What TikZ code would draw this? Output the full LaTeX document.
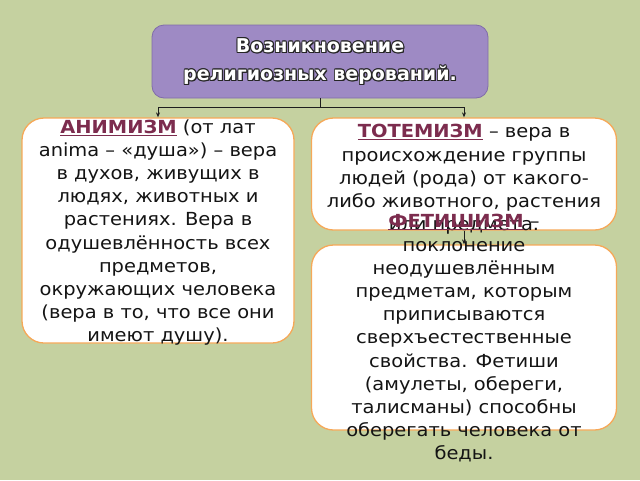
\documentclass[tikz,border=0pt]{standalone}
\usepackage{fontspec}
\setmainfont{DejaVu Sans}
\newfontfamily\bodyfont[FakeStretch=1.08]{DejaVu Sans}
\usetikzlibrary{arrows.meta}
\definecolor{bgc}{RGB}{197,209,160}
\definecolor{purp}{RGB}{158,138,196}
\definecolor{purpd}{RGB}{128,108,170}
\definecolor{orng}{RGB}{246,168,88}
\definecolor{maroon}{RGB}{124,44,78}
\definecolor{txt}{RGB}{20,20,20}
\definecolor{conn}{RGB}{30,30,30}
\newcommand{\hd}[1]{\textcolor{maroon}{\underline{\textbf{#1}}}}
\tikzset{
  titlebox/.style={draw=purpd, line width=0.8pt, fill=purp, rounded corners=12pt, minimum width=336pt, minimum height=73pt, inner sep=0pt},
  infobox/.style={draw=orng, line width=1.3pt, fill=white, rounded corners=22pt, inner sep=0pt},
  bodytext/.style={align=center, text=txt, inner sep=0pt, font=\bodyfont\fontsize{18}{23.2}\selectfont},
  titletext/.style={align=center, inner sep=0pt, font=\fontsize{19}{28}\selectfont\bfseries},
  link/.style={draw=conn, line width=0.8pt},
  arr/.style={link, -{Stealth[length=5pt,width=4pt]}}
}
\begin{document}
\begin{tikzpicture}[x=1pt,y=-1pt]
\fill[bgc] (0,0) rectangle (640,480);
\useasboundingbox (0,0) rectangle (640,480);
% boxes
\node[titlebox] (top) at (320,61.5) {};
\node[infobox, minimum width=272pt, minimum height=225pt] (anim) at (158,230.5) {};
\node[infobox, minimum width=305pt, minimum height=112pt] (totem) at (464,174) {};
\node[infobox, minimum width=305pt, minimum height=185pt] (fetish) at (464,337.5) {};
% title with shadow
\foreach \dx/\dy [count=\k] in {1.3/1.3,0.9/0.9,-0.6/-0.6,0.7/-0.7,-0.7/0.7,1.2/0,0/1.2,-0.7/0,0/-0.7}{
  \node[titletext, text=black!85] (sh\k) at ([shift={(\dx,\dy)}]top.center) {Возникновение\\религиозных верований.};
}
\node[titletext, text=white] (ttl) at (top.center) {Возникновение\\религиозных верований.};
% body texts
\node[bodytext] (animtxt) at ([yshift=-2pt]anim.center) {\hd{АНИМИЗМ} (от лат\\anima – «душа») – вера\\в духов, живущих в\\людях, животных и\\растениях. Вера в\\одушевлённость всех\\предметов,\\окружающих человека\\(вера в то, что все они\\имеют душу).};
\node[bodytext] (totemtxt) at ([yshift=-5.5pt]totem.center) {\hd{ТОТЕМИЗМ} – вера в\\происхождение группы\\людей (рода) от какого-\\либо животного, растения\\или предмета.};
\node[bodytext] (fettxt) at ([yshift=-1pt]fetish.center) {\hd{ФЕТИШИЗМ} –\\поклонение\\неодушевлённым\\предметам, которым\\приписываются\\сверхъестественные\\свойства. Фетиши\\(амулеты, обереги,\\талисманы) способны\\оберегать человека от\\беды.};
% connectors
\coordinate (j) at ([yshift=-9pt]top.south);
\draw[link] (top.south) -- (j);
\draw[arr] (j) -| (anim.north);
\draw[arr] (j) -| (totem.north);
\draw[arr] (totem.south) -- (fetish.north);
\end{tikzpicture}
\end{document}
